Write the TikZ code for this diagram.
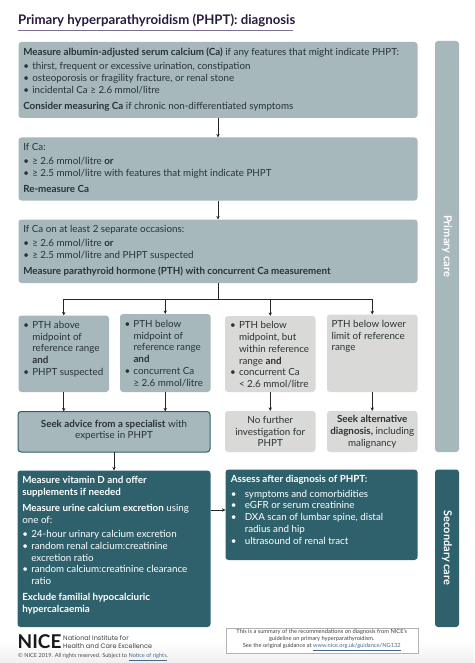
\documentclass[tikz,border=0pt]{standalone}
\usepackage{fontspec}
\setmainfont{Lato}
\newfontfamily\logofont{Poppins}
\usetikzlibrary{arrows.meta,calc}
\definecolor{lightbox}{HTML}{A6B8BC}
\definecolor{darkbox}{HTML}{2E616B}
\definecolor{greybox}{HTML}{D9D9D7}
\definecolor{bodytext}{HTML}{2A3336}
\definecolor{titlecol}{HTML}{2A1A3E}
\definecolor{rulecol}{HTML}{7E6E94}
\definecolor{linkcol}{HTML}{4A6A8A}
\newcommand{\bl}{\makebox[9pt][l]{\textbullet}}
\newcommand{\ind}{\hspace*{9pt}}
\newcommand{\blw}{\makebox[14pt][l]{\textbullet}}
\newcommand{\indw}{\hspace*{14pt}}
\tikzset{
  x=1pt,y=-1pt,
  boxbase/.style={rounded corners=3pt,anchor=north west,inner sep=0pt,outer sep=0pt},
  lbox/.style={boxbase,fill=lightbox},
  gbox/.style={boxbase,fill=greybox},
  dbox/.style={boxbase,fill=darkbox},
  sbox/.style={boxbase,fill=lightbox,draw=darkbox,line width=1pt},
  txt/.style={anchor=north west,inner sep=0pt,outer sep=0pt,align=left,text=bodytext,font=\fontsize{9.8}{11.8}\selectfont},
  ctxt/.style={anchor=center,inner sep=0pt,outer sep=0pt,align=center,text=bodytext,font=\fontsize{9.8}{11.8}\selectfont},
  wtxt/.style={txt,text=white},
  side/.style={anchor=center,inner sep=0pt,rotate=-90,text=white,font=\fontsize{11}{12}\bfseries\selectfont},
  arr/.style={draw=black!85,line width=0.7pt,-{Stealth[length=3.6pt,width=3.4pt]}},
  plain/.style={draw=black!85,line width=0.7pt},
}
\begin{document}
\begin{tikzpicture}
\useasboundingbox (0,0) rectangle (474,663);
\fill[white] (0,0) rectangle (474,663);
\shade[top color=white,bottom color=black!6] (0,640) rectangle (474,663);

% title
\node (title) [anchor=west,inner sep=0pt,text=titlecol,font=\fontsize{13.2}{15}\bfseries\selectfont] at (18,21) {Primary hyperparathyroidism (PHPT): diagnosis};
\coordinate (ruleL) at (18,30.3);
\coordinate (ruleR) at (293,30.3);
\draw[rulecol,line width=0.7pt] (ruleL) -- (ruleR);

% primary boxes
\node (b1) [lbox,minimum width=399pt,minimum height=76pt] at (18.5,42) {};
\node (b2) [lbox,minimum width=399pt,minimum height=63pt] at (18.5,137.5) {};
\node (b3) [lbox,minimum width=399pt,minimum height=63.5pt] at (18.5,219.5) {};

\node (t1) [txt] at (23.3,48) {\textbf{Measure albumin-adjusted serum calcium (Ca)} if any features that might indicate PHPT:\\[2.3pt]
\bl thirst, frequent or excessive urination, constipation\\
\bl osteoporosis or fragility fracture, or renal stone\\
\bl incidental Ca ≥ 2.6 mmol/litre\\[4.4pt]
\textbf{Consider measuring Ca} if chronic non-differentiated symptoms};
\node (t2) [txt] at (23.3,143) {If Ca:\\[2.3pt]
\bl ≥ 2.6 mmol/litre \textbf{or}\\
\bl ≥ 2.5 mmol/litre with features that might indicate PHPT\\[4.4pt]
\textbf{Re-measure Ca}};
\node (t3) [txt] at (23.3,225) {If Ca on at least 2 separate occasions:\\[2.3pt]
\bl ≥ 2.6 mmol/litre \textbf{or}\\
\bl ≥ 2.5 mmol/litre and PHPT suspected\\[4.4pt]
\textbf{Measure parathyroid hormone (PTH) with concurrent Ca measurement}};

% PTH row
\node (pa) [lbox,minimum width=90.5pt,minimum height=76.5pt] at (18.5,315.5) {};
\node (pb) [lbox,minimum width=90.5pt,minimum height=78pt] at (120,314) {};
\node (pc) [gbox,minimum width=90.5pt,minimum height=76pt] at (225,316) {};
\node (pd) [gbox,minimum width=90.5pt,minimum height=77.5pt] at (327,314.5) {};

\node (ta) [txt] at (23.3,321) {\bl PTH above\\\ind midpoint of\\\ind reference range\\\ind\textbf{and}\\\bl PHPT suspected};
\node (tb) [txt] at (124.5,320) {\bl PTH below\\\ind midpoint of\\\ind reference range\\\ind\textbf{and}\\\bl concurrent Ca\\\ind ≥ 2.6 mmol/litre};
\node (tc) [txt] at (230,321.5) {\bl PTH below\\\ind midpoint, but\\\ind within reference\\\ind range \textbf{and}\\\bl concurrent Ca\\\ind < 2.6 mmol/litre};
\node (td) [txt] at (331.5,320) {PTH below lower\\limit of reference\\range};

% outcome row
\node (spec) [sbox,minimum width=192pt,minimum height=40.5pt] at (18,411.5) {};
\node (nof) [gbox,minimum width=90.5pt,minimum height=41pt] at (225,411) {};
\node (alt) [gbox,minimum width=90.5pt,minimum height=41pt] at (327,411) {};
\node (tspec) [ctxt,yshift=1.5pt] at (spec.center) {\textbf{Seek advice from a specialist} with\\expertise in PHPT};
\node (tnof) [ctxt] at (nof.center) {No further\\investigation for\\PHPT};
\node (talt) [ctxt] at (alt.center) {\textbf{Seek alternative}\\\textbf{diagnosis,} including\\malignancy};

% secondary care
\node (d1) [dbox,minimum width=193pt,minimum height=156.5pt] at (17.5,470.5) {};
\node (d2) [dbox,minimum width=192pt,minimum height=90.5pt] at (225.5,469.5) {};
\node (td1) [wtxt] at (22.3,476.3) {\textbf{Measure vitamin D and offer}\\\textbf{supplements if needed}\\[4.4pt]
\textbf{Measure urine calcium excretion} using\\one of:\\[2.3pt]
\bl 24-hour urinary calcium excretion\\
\bl random renal calcium:creatinine\\\ind excretion ratio\\
\bl random calcium:creatinine clearance\\\ind ratio\\[4.4pt]
\textbf{Exclude familial hypocalciuric}\\\textbf{hypercalcaemia}};
\node (td2) [wtxt] at (230.8,475.7) {\textbf{Assess after diagnosis of PHPT:}\\[2.3pt]
\blw symptoms and comorbidities\\
\blw eGFR or serum creatinine\\
\blw DXA scan of lumbar spine, distal\\\indw radius and hip\\
\blw ultrasound of renal tract};

% side bars
\node (s1) [lbox,minimum width=24pt,minimum height=411pt] at (435,41) {};
\node (s2) [dbox,minimum width=24pt,minimum height=157.5pt] at (435,469.5) {};
\node (ts1) [side] at (447,246) {Primary care};
\node (ts2) [side] at (447,548) {Secondary care};

% connectors
\coordinate (split) at (b3.south |- 0,299.3);
\draw[arr] (b1.south) -- (b2.north);
\draw[arr] (b2.south) -- (b3.north);
\draw[plain] (b3.south) -- (split);
\draw[arr] (split) -| (pa.north);
\draw[arr] (split) -| (pb.north);
\draw[arr] (split) -| (pc.north);
\draw[arr] (split) -| (pd.north);
\draw[arr] (pa.south) -- (pa.south |- spec.north);
\draw[arr] (pb.south) -- (pb.south |- spec.north);
\draw[arr] (pc.south) -- (nof.north);
\draw[arr] (pd.south) -- (alt.north);
\draw[arr] (spec.south) -- (d1.north -| spec.south);
\coordinate (hstart) at (d1.east |- 0,510);
\draw[arr] (hstart) -- (hstart -| d2.west);

% footer
\node (nice) [anchor=west,inner sep=0pt,text=black!90,font=\fontsize{19}{20}\bfseries\selectfont] at (17.5,642) {NICE};
\node (inst) [anchor=west,inner sep=0pt,align=left,text=black!75,font=\logofont\fontsize{6.5}{7.2}\selectfont] at (63,642) {National Institute for\\Health and Care Excellence};
\node (copy) [anchor=west,inner sep=0pt,text=black!70,font=\fontsize{5.6}{6}\selectfont] at (18,657.3) {© NICE 2019. All rights reserved. Subject to \textcolor{linkcol}{\underline{Notice of rights}}.};
\node (note) [anchor=north west,draw=black!30,fill=white,line width=0.5pt,minimum width=192pt,minimum height=25pt,inner sep=0pt] at (225.5,627.5) {};
\node (tnote) [anchor=center,inner sep=0pt,align=center,text=black!75,font=\fontsize{5.7}{7}\selectfont] at (note.center) {This is a summary of the recommendations on diagnosis from NICE's\\guideline on primary hyperparathyroidism.\\See the original guidance at \textcolor{linkcol}{\underline{www.nice.org.uk/guidance/NG132}}};
\end{tikzpicture}
\end{document}
